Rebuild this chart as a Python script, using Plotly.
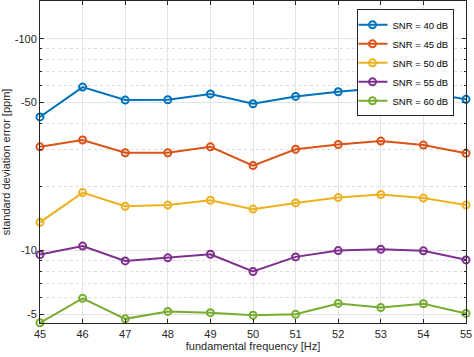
import plotly.graph_objects as go
import numpy as np

freq = [45, 46, 47, 48, 49, 50, 51, 52, 53, 54, 55]
snr_labels = ["SNR = 40 dB", "SNR = 45 dB", "SNR = 50 dB", "SNR = 55 dB", "SNR = 60 dB"]
err_40 = [42.8, 59.2, 51.4, 51.6, 54.9, 49.4, 53.5, 56.3, 58.6, 55.9, 51.8]
err_45 = [30.9, 33.3, 29.0, 29.0, 30.9, 25.2, 30.1, 31.7, 32.9, 31.5, 28.8]
err_50 = [13.6, 18.8, 16.2, 16.4, 17.3, 15.7, 16.8, 17.8, 18.4, 17.7, 16.4]
err_55 = [9.57, 10.5, 8.94, 9.24, 9.61, 7.97, 9.34, 10.0, 10.14, 9.97, 9.04]
err_60 = [4.56, 5.95, 4.76, 5.16, 5.09, 4.95, 5.0, 5.63, 5.38, 5.61, 5.05]
colors = ["#0072BD", "#D95319", "#EDB120", "#7E2F8E", "#77AC30"]

y_tickvals = [5, 10, 50, 100]
y_ticktext = ["-5", "-10", "-50", "-100"]
y_minor = [6, 7, 8, 9, 20, 30, 40, 60, 70, 80, 90]

series = [err_40, err_45, err_50, err_55, err_60]

fig = go.Figure()
for name, vals, c in zip(snr_labels, series, colors):
    fig.add_trace(go.Scatter(
        x=freq, y=vals, name=name, mode="lines+markers",
        line=dict(color=c, width=2),
        marker=dict(symbol="circle-open", size=7, color=c, line=dict(width=2, color=c)),
        cliponaxis=False,
    ))

font = dict(family="Liberation Sans, Arial, sans-serif", size=11, color="#262626")

fig.update_layout(
    width=474, height=357,
    margin=dict(l=40, r=8, t=1, b=34),
    paper_bgcolor="white", plot_bgcolor="white",
    font=font,
    showlegend=True,
    legend=dict(
        x=0.973, y=0.974, xanchor="right", yanchor="top",
        bgcolor="white", bordercolor="#262626", borderwidth=1,
        font=dict(family="Liberation Sans, Arial, sans-serif", size=9.5, color="#000000"),
        tracegroupgap=0, itemwidth=30, indentation=-6,
    ),
    xaxis=dict(
        range=[45, 55], tickmode="array", tickvals=freq,
        ticktext=[str(f) for f in freq],
        showgrid=True, gridcolor="#e3e3e3", gridwidth=1,
        showline=True, linecolor="#262626", linewidth=1, mirror="ticks",
        ticks="inside", ticklen=4, tickcolor="#262626",
        zeroline=False,
        title=dict(text="fundamental frequency [Hz]", standoff=2, font=font),
        ticklabelstandoff=1,
    ),
    yaxis=dict(
        type="log", range=[np.log10(4.55), np.log10(151)],
        tickmode="array", tickvals=y_tickvals, ticktext=y_ticktext,
        showgrid=True, gridcolor="#e3e3e3", gridwidth=1,
        showline=True, linecolor="#262626", linewidth=1, mirror="ticks",
        ticks="inside", ticklen=4, tickcolor="#262626",
        zeroline=False,
        minor=dict(tickmode="array", tickvals=y_minor, showgrid=True,
                   gridcolor="#dcdcdc", griddash="dot", gridwidth=1,
                   ticks="inside", ticklen=2, tickcolor="#262626"),
        title=dict(text="standard deviation error [ppm]", standoff=4, font=font),
    ),
)

fig.write_html("out.html", config={"displayModeBar": False},
               post_script="document.body.style.margin='0';document.body.style.overflow='hidden';")
